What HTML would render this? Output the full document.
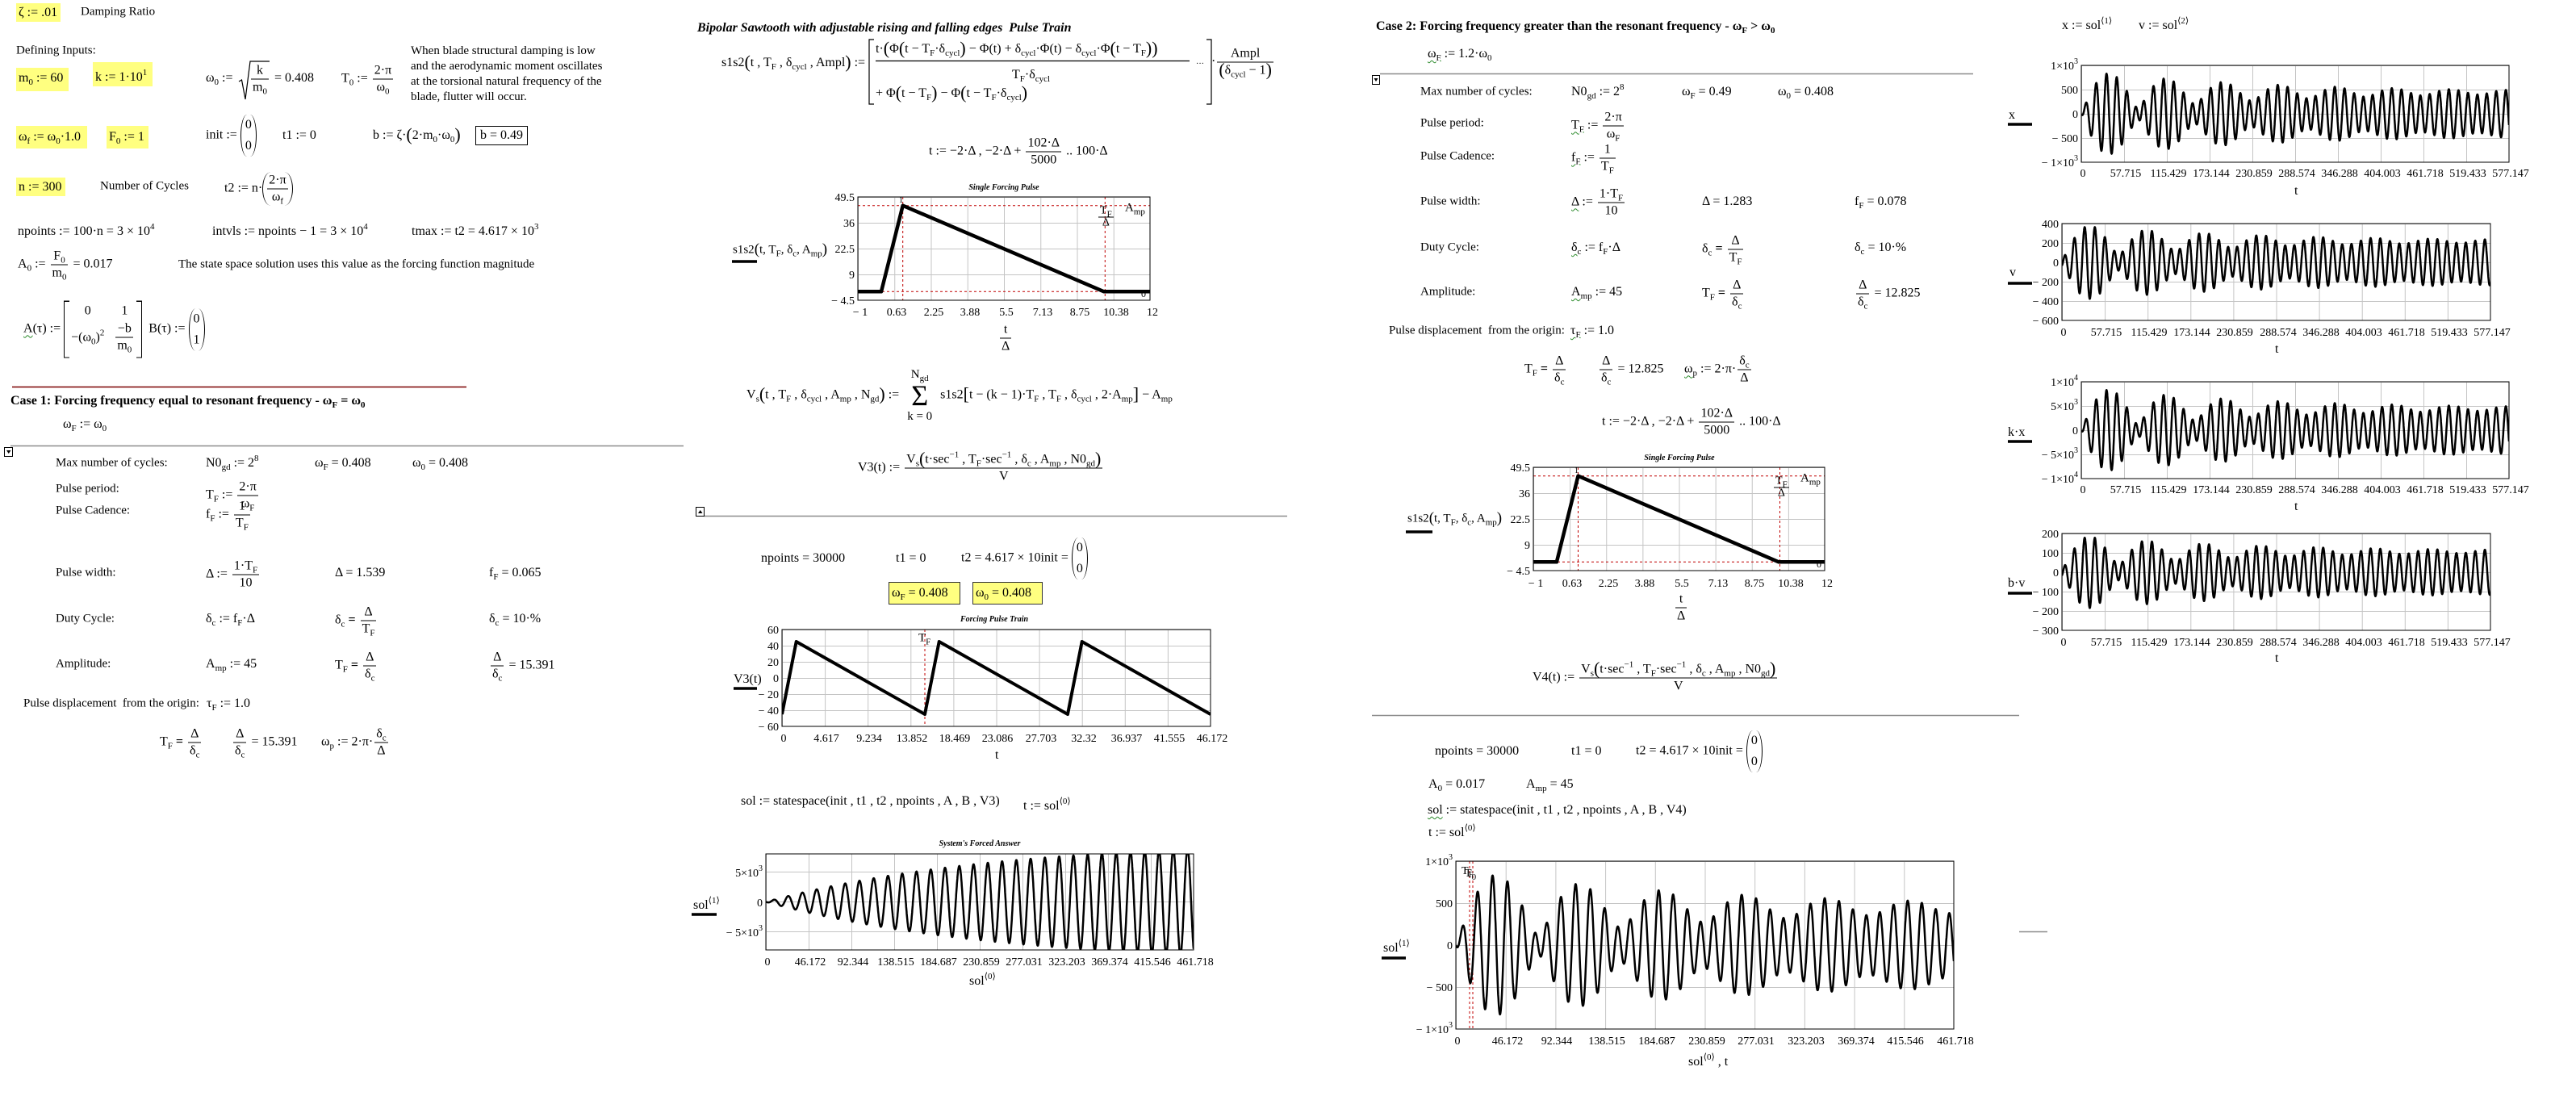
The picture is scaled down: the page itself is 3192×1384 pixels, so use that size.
<!DOCTYPE html>
<html><head><meta charset="utf-8">
<style>
*{margin:0;padding:0}
body{width:3192px;height:1384px;position:relative;overflow:hidden;background:#fff;font-family:"Liberation Serif","DejaVu Serif",serif;color:#000}
svg.main{position:absolute;left:0;top:0}
.a{position:absolute;white-space:nowrap;font-size:16px;line-height:1;transform:translateY(-50%)}
.tx{font-size:15px}
.bo{font-weight:bold}
sub{font-size:11px;vertical-align:-4px;line-height:0}
sup{font-size:11px;vertical-align:7px;line-height:0}
.f{display:inline-block;vertical-align:middle;text-align:center;margin:0 2px}
.f>span{display:block;line-height:20px;padding:0 2px}
.f>.n{border-bottom:1px solid #000}
.v{display:inline-block;vertical-align:middle;text-align:center;border-left:1.3px solid #000;border-right:1.3px solid #000;border-radius:8px/50%;padding:0 5px;line-height:26px}
.hl{position:absolute;background:#ffff80}
.w{text-decoration:underline wavy #2a8a2a;text-decoration-thickness:1px;text-underline-offset:3px}
.bp{font-size:22px;vertical-align:-2px;line-height:0}
.bq{font-size:19px;vertical-align:-1px;line-height:0}
.mx{display:inline-grid;grid-template-columns:auto auto;column-gap:12px;row-gap:4px;align-items:center;justify-items:center;vertical-align:middle;padding:5px 8px;border-left:1.5px solid #000;border-right:1.5px solid #000;background:linear-gradient(#000,#000) left top/6px 1.5px no-repeat,linear-gradient(#000,#000) right top/6px 1.5px no-repeat,linear-gradient(#000,#000) left bottom/6px 1.5px no-repeat,linear-gradient(#000,#000) right bottom/6px 1.5px no-repeat}
.sg{display:inline-flex;flex-direction:column;align-items:center;vertical-align:middle;font-size:15px;line-height:18px;margin:0 6px}
.sg .sgm{font-size:36px;line-height:34px}
.sm .f>span{line-height:14px}
.yl{font-size:15px}
</style></head><body>

<svg class="main" width="3192" height="1384" viewBox="0 0 3192 1384" xmlns="http://www.w3.org/2000/svg">
<defs>
<clipPath id="cA"><rect x="1063" y="244" width="362" height="128"/></clipPath>
<clipPath id="cB"><rect x="969" y="780" width="531" height="120"/></clipPath>
<clipPath id="cC"><rect x="949" y="1058" width="530" height="119"/></clipPath>
<clipPath id="cD"><rect x="1900" y="579" width="361" height="128"/></clipPath>
<clipPath id="cE"><rect x="1804" y="1067" width="617" height="208"/></clipPath>
<clipPath id="cF"><rect x="2579" y="81" width="530" height="120"/></clipPath>
<clipPath id="cG"><rect x="2555" y="277" width="531" height="120"/></clipPath>
<clipPath id="cH"><rect x="2579" y="473" width="530" height="120"/></clipPath>
<clipPath id="cI"><rect x="2555" y="661" width="531" height="120"/></clipPath>
<pattern id="pA" x="1063" y="244" width="45.25" height="32" patternUnits="userSpaceOnUse"><path d="M0 0V32M0 0H45.25" stroke="#c4c4c4" stroke-width="2" fill="none"/></pattern>
<pattern id="pD" x="1900" y="579" width="45.125" height="32" patternUnits="userSpaceOnUse"><path d="M0 0V32M0 0H45.125" stroke="#c4c4c4" stroke-width="2" fill="none"/></pattern>
<pattern id="pB" x="969" y="780" width="53.1" height="20" patternUnits="userSpaceOnUse"><path d="M0 0V20M0 0H53.1" stroke="#c4c4c4" stroke-width="2" fill="none"/></pattern>
<pattern id="pC" x="949" y="1058" width="53" height="119" patternUnits="userSpaceOnUse"><path d="M0 0V119" stroke="#c4c4c4" stroke-width="2" fill="none"/></pattern>
<pattern id="pE" x="1804" y="1067" width="61.7" height="52" patternUnits="userSpaceOnUse"><path d="M0 0V52M0 0H61.7" stroke="#c4c4c4" stroke-width="2" fill="none"/></pattern>
<pattern id="pF" x="2579" y="81" width="53" height="30" patternUnits="userSpaceOnUse"><path d="M0 0V30M0 0H53" stroke="#c4c4c4" stroke-width="2" fill="none"/></pattern>
<pattern id="pG" x="2555" y="277" width="53.1" height="24" patternUnits="userSpaceOnUse"><path d="M0 0V24M0 0H53.1" stroke="#c4c4c4" stroke-width="2" fill="none"/></pattern>
<pattern id="pH" x="2579" y="473" width="53" height="30" patternUnits="userSpaceOnUse"><path d="M0 0V30M0 0H53" stroke="#c4c4c4" stroke-width="2" fill="none"/></pattern>
<pattern id="pI" x="2555" y="661" width="53.1" height="24" patternUnits="userSpaceOnUse"><path d="M0 0V24M0 0H53.1" stroke="#c4c4c4" stroke-width="2" fill="none"/></pattern>
</defs>

<!-- separators -->
<path d="M15 479.5H578" stroke="#7a0000" stroke-width="1.5"/>
<g stroke="#8c8c8c" stroke-width="1.5">
<path d="M13 552.5H847"/>
<path d="M872 639.5H1595"/>
<path d="M1710 91.5H2445"/>
<path d="M1700 886.5H2502"/>
<path d="M2502 1154.5H2537"/>
</g>
<!-- icons -->
<g stroke="#000" stroke-width="1" fill="#fff">
<rect x="5.5" y="554.5" width="10" height="11"/>
<rect x="862.5" y="628.5" width="10" height="11"/>
<rect x="1700.5" y="93.5" width="9" height="11"/>
</g>
<path d="M8 558h5.5l-2.75 4z M865 636h5.5l-2.75-4z M1702.5 97h5l-2.5 4z" fill="#000"/>

<!-- radical and big brackets -->
<g fill="none" stroke="#000" stroke-width="1.2">
<path d="M296 101 L299.5 99 L304 123 L310 76 L334 76"/>
<path d="M1083 49H1077V129H1083"/>
<path d="M1495 49H1501V129H1495"/>
<path d="M1085 75.5H1474"/>
</g>

<!-- Chart A -->
<rect x="1063" y="244" width="362" height="128" fill="url(#pA)"/>
<path d="M1063 254.7H1425M1063 361.3H1425M1118.7 244V372M1369.3 244V372" stroke="#c00000" stroke-width="1" stroke-dasharray="3,3" fill="none"/>
<g clip-path="url(#cA)"><path d="M1063 361.3L1092 361.3L1118.7 254.7L1367.9 361.3L1425 361.3" stroke="#000" stroke-width="4.5" fill="none" stroke-linejoin="round"/></g>
<rect x="1063" y="244" width="362" height="128" fill="none" stroke="#000" stroke-width="1"/>

<!-- Chart D -->
<rect x="1900" y="579" width="361" height="128" fill="url(#pD)"/>
<path d="M1900 589.7H2261M1900 696.3H2261M1955.5 579V707M2205.5 579V707" stroke="#c00000" stroke-width="1" stroke-dasharray="3,3" fill="none"/>
<g clip-path="url(#cD)"><path d="M1900 696.3L1928.9 696.3L1955.5 589.7L2204 696.3L2261 696.3" stroke="#000" stroke-width="4.5" fill="none" stroke-linejoin="round"/></g>
<rect x="1900" y="579" width="361" height="128" fill="none" stroke="#000" stroke-width="1"/>

<!-- Chart B -->
<rect x="969" y="780" width="531" height="120" fill="url(#pB)"/>
<path d="M1146 780V900" stroke="#c00000" stroke-width="1" stroke-dasharray="3,3" fill="none"/>
<g clip-path="url(#cB)"><path d="M969 885L986.7 795L1146 885L1163.7 795L1323 885L1340.7 795L1500 885" stroke="#000" stroke-width="4" fill="none" stroke-linejoin="round"/></g>
<rect x="969" y="780" width="531" height="120" fill="none" stroke="#000" stroke-width="1"/>

<!-- Chart C -->
<rect x="949" y="1058" width="530" height="119" fill="url(#pC)"/>
<path d="M949 1080.5H1479M949 1117.5H1479M949 1154.5H1479" stroke="#c4c4c4" stroke-width="1"/>
<g clip-path="url(#cC)"><path id="tC" d="" stroke="#000" stroke-width="2.5" fill="none" stroke-linejoin="round"/></g>
<rect x="949" y="1058" width="530" height="119" fill="none" stroke="#000" stroke-width="1"/>

<!-- Chart E -->
<rect x="1804" y="1067" width="617" height="208" fill="url(#pE)"/>
<path d="M1821 1067V1275M1825 1067V1275" stroke="#c00000" stroke-width="1" stroke-dasharray="3,3" fill="none"/>
<g clip-path="url(#cE)"><path id="tE" d="" stroke="#000" stroke-width="2.5" fill="none" stroke-linejoin="round"/></g>
<rect x="1804" y="1067" width="617" height="208" fill="none" stroke="#000" stroke-width="1"/>

<!-- Chart F -->
<rect x="2579" y="81" width="530" height="120" fill="url(#pF)"/>
<g clip-path="url(#cF)"><path id="tF" d="" stroke="#000" stroke-width="2.5" fill="none" stroke-linejoin="round"/></g>
<rect x="2579" y="81" width="530" height="120" fill="none" stroke="#000" stroke-width="1"/>
<!-- Chart G -->
<rect x="2555" y="277" width="531" height="120" fill="url(#pG)"/>
<g clip-path="url(#cG)"><path id="tG" d="" stroke="#000" stroke-width="2.5" fill="none" stroke-linejoin="round"/></g>
<rect x="2555" y="277" width="531" height="120" fill="none" stroke="#000" stroke-width="1"/>
<!-- Chart H -->
<rect x="2579" y="473" width="530" height="120" fill="url(#pH)"/>
<g clip-path="url(#cH)"><path id="tH" d="" stroke="#000" stroke-width="2.5" fill="none" stroke-linejoin="round"/></g>
<rect x="2579" y="473" width="530" height="120" fill="none" stroke="#000" stroke-width="1"/>
<!-- Chart I -->
<rect x="2555" y="661" width="531" height="120" fill="url(#pI)"/>
<g clip-path="url(#cI)"><path id="tI" d="" stroke="#000" stroke-width="2.5" fill="none" stroke-linejoin="round"/></g>
<rect x="2555" y="661" width="531" height="120" fill="none" stroke="#000" stroke-width="1"/>

<!-- legend lines -->
<path d="M907 324H938M909 853H938M857 1133H888M1742 659H1775M1712 1187H1742M2488 154H2518M2488 351H2518M2488 547H2518M2488 735H2518" stroke="#000" stroke-width="3.5"/>

<!-- tick labels -->
<g font-family="Liberation Serif, serif" font-size="14" fill="#000">
<g text-anchor="end">
<text x="1059" y="249">49.5</text><text x="1059" y="281">36</text><text x="1059" y="313">22.5</text><text x="1059" y="345">9</text><text x="1059" y="377">− 4.5</text>
<text x="1896" y="584">49.5</text><text x="1896" y="616">36</text><text x="1896" y="648">22.5</text><text x="1896" y="680">9</text><text x="1896" y="712">− 4.5</text>
<text x="965" y="785">60</text><text x="965" y="805">40</text><text x="965" y="825">20</text><text x="965" y="845">0</text><text x="965" y="865">− 20</text><text x="965" y="885">− 40</text><text x="965" y="905">− 60</text>
<text x="945" y="1086">5×10<tspan dy="-7" font-size="10">3</tspan></text><text x="945" y="1123">0</text><text x="945" y="1160">− 5×10<tspan dy="-7" font-size="10">3</tspan></text>
<text x="1800" y="1072">1×10<tspan dy="-7" font-size="10">3</tspan></text><text x="1800" y="1124">500</text><text x="1800" y="1176">0</text><text x="1800" y="1228">− 500</text><text x="1800" y="1280">− 1×10<tspan dy="-7" font-size="10">3</tspan></text>
<text x="2575" y="86">1×10<tspan dy="-7" font-size="10">3</tspan></text><text x="2575" y="116">500</text><text x="2575" y="146">0</text><text x="2575" y="176">− 500</text><text x="2575" y="206">− 1×10<tspan dy="-7" font-size="10">3</tspan></text>
<text x="2551" y="282">400</text><text x="2551" y="306">200</text><text x="2551" y="330">0</text><text x="2551" y="354">− 200</text><text x="2551" y="378">− 400</text><text x="2551" y="402">− 600</text>
<text x="2575" y="478">1×10<tspan dy="-7" font-size="10">4</tspan></text><text x="2575" y="508">5×10<tspan dy="-7" font-size="10">3</tspan></text><text x="2575" y="538">0</text><text x="2575" y="568">− 5×10<tspan dy="-7" font-size="10">3</tspan></text><text x="2575" y="598">− 1×10<tspan dy="-7" font-size="10">4</tspan></text>
<text x="2551" y="666">200</text><text x="2551" y="690">100</text><text x="2551" y="714">0</text><text x="2551" y="738">− 100</text><text x="2551" y="762">− 200</text><text x="2551" y="786">− 300</text>
</g>
<g text-anchor="middle">
<text x="1066" y="391">− 1</text><text x="1111" y="391">0.63</text><text x="1157" y="391">2.25</text><text x="1202" y="391">3.88</text><text x="1247" y="391">5.5</text><text x="1292" y="391">7.13</text><text x="1338" y="391">8.75</text><text x="1383" y="391">10.38</text><text x="1428" y="391">12</text>
<text x="1903" y="727">− 1</text><text x="1948" y="727">0.63</text><text x="1993" y="727">2.25</text><text x="2038" y="727">3.88</text><text x="2084" y="727">5.5</text><text x="2129" y="727">7.13</text><text x="2174" y="727">8.75</text><text x="2219" y="727">10.38</text><text x="2264" y="727">12</text>
<text x="971" y="919">0</text><text x="1024" y="919">4.617</text><text x="1077" y="919">9.234</text><text x="1130" y="919">13.852</text><text x="1183" y="919">18.469</text><text x="1236" y="919">23.086</text><text x="1290" y="919">27.703</text><text x="1343" y="919">32.32</text><text x="1396" y="919">36.937</text><text x="1449" y="919">41.555</text><text x="1502" y="919">46.172</text>
<text x="951" y="1196">0</text><text x="1004" y="1196">46.172</text><text x="1057" y="1196">92.344</text><text x="1110" y="1196">138.515</text><text x="1163" y="1196">184.687</text><text x="1216" y="1196">230.859</text><text x="1269" y="1196">277.031</text><text x="1322" y="1196">323.203</text><text x="1375" y="1196">369.374</text><text x="1428" y="1196">415.546</text><text x="1481" y="1196">461.718</text>
<text x="1806" y="1294">0</text><text x="1868" y="1294">46.172</text><text x="1929" y="1294">92.344</text><text x="1991" y="1294">138.515</text><text x="2053" y="1294">184.687</text><text x="2115" y="1294">230.859</text><text x="2176" y="1294">277.031</text><text x="2238" y="1294">323.203</text><text x="2300" y="1294">369.374</text><text x="2361" y="1294">415.546</text><text x="2423" y="1294">461.718</text>
<text x="2581" y="219">0</text><text x="2634" y="219">57.715</text><text x="2687" y="219">115.429</text><text x="2740" y="219">173.144</text><text x="2793" y="219">230.859</text><text x="2846" y="219">288.574</text><text x="2899" y="219">346.288</text><text x="2952" y="219">404.003</text><text x="3005" y="219">461.718</text><text x="3058" y="219">519.433</text><text x="3111" y="219">577.147</text>
<text x="2557" y="416">0</text><text x="2610" y="416">57.715</text><text x="2663" y="416">115.429</text><text x="2716" y="416">173.144</text><text x="2769" y="416">230.859</text><text x="2823" y="416">288.574</text><text x="2876" y="416">346.288</text><text x="2929" y="416">404.003</text><text x="2982" y="416">461.718</text><text x="3035" y="416">519.433</text><text x="3088" y="416">577.147</text>
<text x="2581" y="611">0</text><text x="2634" y="611">57.715</text><text x="2687" y="611">115.429</text><text x="2740" y="611">173.144</text><text x="2793" y="611">230.859</text><text x="2846" y="611">288.574</text><text x="2899" y="611">346.288</text><text x="2952" y="611">404.003</text><text x="3005" y="611">461.718</text><text x="3058" y="611">519.433</text><text x="3111" y="611">577.147</text>
<text x="2557" y="800">0</text><text x="2610" y="800">57.715</text><text x="2663" y="800">115.429</text><text x="2716" y="800">173.144</text><text x="2769" y="800">230.859</text><text x="2823" y="800">288.574</text><text x="2876" y="800">346.288</text><text x="2929" y="800">404.003</text><text x="2982" y="800">461.718</text><text x="3035" y="800">519.433</text><text x="3088" y="800">577.147</text>
<g font-size="10" font-weight="bold" font-style="italic">
<text x="1244" y="235">Single Forcing Pulse</text>
<text x="1232" y="770">Forcing Pulse Train</text>
<text x="1214" y="1048">System's Forced Answer</text>
<text x="2081" y="570">Single Forcing Pulse</text>
</g>
</g>
</g>
</svg>

<!-- ===== LEFT COLUMN ===== -->
<div class="hl" style="left:20px;top:4px;width:55px;height:23px"></div>
<div class="a" style="left:23px;top:16px">ζ := .01</div>
<div class="a tx" style="left:100px;top:15px">Damping Ratio</div>
<div class="a tx" style="left:20px;top:63px">Defining Inputs:</div>
<div class="hl" style="left:20px;top:84px;width:65px;height:29px"></div>
<div class="a" style="left:23px;top:97px">m<sub>0</sub> := 60</div>
<div class="hl" style="left:115px;top:77px;width:74px;height:30px"></div>
<div class="a" style="left:118px;top:96px">k := 1·10<sup>1</sup></div>
<div class="a" style="left:255px;top:97px">ω<sub>0</sub> :=</div>
<div class="a" style="left:309px;top:98px"><span class="f"><span class="n">k</span><span>m<sub>0</sub></span></span></div>
<div class="a" style="left:340px;top:97px">= 0.408</div>
<div class="a" style="left:423px;top:98px">T<sub>0</sub> := <span class="f"><span class="n">2·π</span><span>ω<sub>0</sub></span></span></div>
<div class="a tx" style="left:509px;top:54px;transform:none;line-height:19px">When blade structural damping is low<br>and the aerodynamic moment oscillates<br>at the torsional natural frequency of the<br>blade, flutter will occur.</div>

<div class="hl" style="left:20px;top:156px;width:88px;height:28px"></div>
<div class="a" style="left:23px;top:170px">ω<sub>f</sub> := ω<sub>0</sub>·1.0</div>
<div class="hl" style="left:132px;top:156px;width:52px;height:28px"></div>
<div class="a" style="left:135px;top:170px">F<sub>0</sub> := 1</div>
<div class="a" style="left:255px;top:168px">init := <span class="v">0<br>0</span></div>
<div class="a" style="left:350px;top:168px">t1 := 0</div>
<div class="a" style="left:462px;top:168px">b := ζ·<span class="bp">(</span>2·m<sub>0</sub>·ω<sub>0</sub><span class="bp">)</span></div>
<div class="a" style="left:589px;top:168px;border:1px solid #000;padding:3px 5px">b = 0.49</div>

<div class="hl" style="left:20px;top:220px;width:61px;height:23px"></div>
<div class="a" style="left:23px;top:232px">n := 300</div>
<div class="a tx" style="left:124px;top:231px">Number of Cycles</div>
<div class="a" style="left:278px;top:234px">t2 := n·<span class="v" style="padding:0 3px;border-radius:10px/50%;line-height:normal"><span class="f"><span class="n">2·π</span><span>ω<sub>f</sub></span></span></span></div>

<div class="a" style="left:22px;top:287px">npoints := 100·n = 3 × 10<sup>4</sup></div>
<div class="a" style="left:263px;top:287px">intvls := npoints − 1 = 3 × 10<sup>4</sup></div>
<div class="a" style="left:510px;top:287px">tmax := t2 = 4.617 × 10<sup>3</sup></div>
<div class="a" style="left:22px;top:328px">A<sub>0</sub> := <span class="f"><span class="n">F<sub>0</sub></span><span>m<sub>0</sub></span></span> = 0.017</div>
<div class="a tx" style="left:221px;top:328px">The state space solution uses this value as the forcing function magnitude</div>

<div class="a" style="left:29px;top:408px"><span class="w">A</span>(τ) := <span class="mx"><span>0</span><span>1</span><span>−(ω<sub>0</sub>)<sup>2</sup></span><span class="f"><span class="n">−b</span><span>m<sub>0</sub></span></span></span>&nbsp; B(τ) := <span class="v">0<br>1</span></div>

<div class="a bo" style="left:13px;top:497px">Case 1: Forcing frequency equal to resonant frequency - ω<sub>F</sub> = ω<sub>0</sub></div>
<div class="a" style="left:78px;top:526px">ω<sub>F</sub> := ω<sub>0</sub></div>

<div class="a tx" style="left:69px;top:574px">Max number of cycles:</div>
<div class="a" style="left:255px;top:574px">N0<sub>gd</sub> := 2<sup>8</sup></div>
<div class="a" style="left:390px;top:574px">ω<sub>F</sub> = 0.408</div>
<div class="a" style="left:511px;top:574px">ω<sub>0</sub> = 0.408</div>
<div class="a tx" style="left:69px;top:606px">Pulse period:</div>
<div class="a" style="left:255px;top:614px">T<sub>F</sub> := <span class="f"><span class="n">2·π</span><span>ω<sub>F</sub></span></span></div>
<div class="a tx" style="left:69px;top:633px">Pulse Cadence:</div>
<div class="a" style="left:255px;top:638px">f<sub>F</sub> := <span class="f"><span class="n">1</span><span>T<sub>F</sub></span></span></div>
<div class="a tx" style="left:69px;top:710px">Pulse width:</div>
<div class="a" style="left:255px;top:712px">Δ := <span class="f"><span class="n">1·T<sub>F</sub></span><span>10</span></span></div>
<div class="a" style="left:415px;top:710px">Δ = 1.539</div>
<div class="a" style="left:606px;top:710px">f<sub>F</sub> = 0.065</div>
<div class="a tx" style="left:69px;top:767px">Duty Cycle:</div>
<div class="a" style="left:255px;top:767px">δ<sub>c</sub> := f<sub>F</sub>·Δ</div>
<div class="a" style="left:415px;top:769px">δ<sub>c</sub> <b>=</b> <span class="f"><span class="n">Δ</span><span>T<sub>F</sub></span></span></div>
<div class="a" style="left:606px;top:767px">δ<sub>c</sub> = 10·%</div>
<div class="a tx" style="left:69px;top:823px">Amplitude:</div>
<div class="a" style="left:255px;top:823px">A<sub>mp</sub> := 45</div>
<div class="a" style="left:415px;top:825px">T<sub>F</sub> <b>=</b> <span class="f"><span class="n">Δ</span><span>δ<sub>c</sub></span></span></div>
<div class="a" style="left:606px;top:825px"><span class="f"><span class="n">Δ</span><span>δ<sub>c</sub></span></span> = 15.391</div>
<div class="a tx" style="left:29px;top:872px">Pulse displacement&nbsp; from the origin:</div>
<div class="a" style="left:256px;top:872px">τ<sub>F</sub> := 1.0</div>
<div class="a" style="left:198px;top:920px">T<sub>F</sub> <b>=</b> <span class="f"><span class="n">Δ</span><span>δ<sub>c</sub></span></span></div>
<div class="a" style="left:287px;top:920px"><span class="f"><span class="n">Δ</span><span>δ<sub>c</sub></span></span> = 15.391</div>
<div class="a" style="left:398px;top:920px">ω<sub>p</sub> := 2·π·<span class="f"><span class="n">δ<sub>c</sub></span><span>Δ</span></span></div>

<!-- ===== MIDDLE COLUMN ===== -->
<div class="a bo" style="left:864px;top:35px;font-style:italic">Bipolar Sawtooth with adjustable rising and falling edges&nbsp; Pulse Train</div>
<div class="a" style="left:894px;top:78px">s1s2<span class="bp">(</span>t , T<sub>F</sub> , δ<sub>cycl</sub> , Ampl<span class="bp">)</span> :=</div>
<div class="a" style="left:1085px;top:61px">t·<span class="bp">(</span>Φ<span class="bp">(</span>t − T<sub>F</sub>·δ<sub>cycl</sub><span class="bp">)</span> − Φ(t) + δ<sub>cycl</sub>·Φ(t) − δ<sub>cycl</sub>·Φ<span class="bp">(</span>t − T<sub>F</sub><span class="bp">)</span><span class="bp">)</span></div>
<div class="a" style="left:1254px;top:93px">T<sub>F</sub>·δ<sub>cycl</sub></div>
<div class="a" style="left:1085px;top:116px">+ Φ<span class="bp">(</span>t − T<sub>F</sub><span class="bp">)</span> − Φ<span class="bp">(</span>t − T<sub>F</sub>·δ<sub>cycl</sub><span class="bp">)</span></div>
<div class="a" style="left:1482px;top:80px;font-size:10px">···</div>
<div class="a" style="left:1501px;top:77px">·<span class="f"><span class="n">Ampl</span><span><span class="bp">(</span>δ<sub>cycl</sub> − 1<span class="bp">)</span></span></span></div>

<div class="a" style="left:1151px;top:188px">t := −2·Δ , −2·Δ + <span class="f"><span class="n">102·Δ</span><span>5000</span></span> .. 100·Δ</div>

<div class="a yl" style="left:908px;top:310px">s1s2<span class="bq">(</span>t, T<sub>F</sub>, δ<sub>c</sub>, A<sub>mp</sub><span class="bq">)</span></div>
<div class="a" style="left:1237px;top:419px"><span class="f"><span class="n">t</span><span>Δ</span></span></div>
<div class="a" style="left:1114px;top:249px;font-size:10px">1</div>
<div class="a sm" style="left:1359px;top:269px;font-size:14px"><span class="f"><span class="n">T<sub>F</sub></span><span>Δ</span></span></div>
<div class="a" style="left:1394px;top:258px;font-size:15px">A<sub>mp</sub></div>
<div class="a" style="left:1414px;top:364px;font-size:12px">0</div>

<div class="a" style="left:925px;top:490px">V<sub>s</sub><span class="bp">(</span>t , T<sub>F</sub> , δ<sub>cycl</sub> , A<sub>mp</sub> , N<sub>gd</sub><span class="bp">)</span> := <span class="sg"><span>N<sub>gd</sub></span><span class="sgm">Σ</span><span>k = 0</span></span> s1s2<span class="bp">[</span>t − (k − 1)·T<sub>F</sub> , T<sub>F</sub> , δ<sub>cycl</sub> , 2·A<sub>mp</sub><span class="bp">]</span> − A<sub>mp</sub></div>

<div class="a" style="left:1063px;top:580px">V3(t) := <span class="f"><span class="n">V<sub>s</sub><span class="bp">(</span>t·sec<sup>−1</sup> , T<sub>F</sub>·sec<sup>−1</sup> , δ<sub>c</sub> , A<sub>mp</sub> , N0<sub>gd</sub><span class="bp">)</span></span><span>V</span></span></div>

<div class="a" style="left:943px;top:692px">npoints = 30000</div>
<div class="a" style="left:1110px;top:692px">t1 = 0</div>
<div class="a" style="left:1191px;top:692px">t2 = 4.617 × 10init = <span class="v">0<br>0</span></div>
<div class="hl" style="left:1101px;top:721px;width:89px;height:28px;border:1px solid #333;box-sizing:border-box"></div>
<div class="a" style="left:1105px;top:735px">ω<sub>F</sub> = 0.408</div>
<div class="hl" style="left:1205px;top:721px;width:87px;height:28px;border:1px solid #333;box-sizing:border-box"></div>
<div class="a" style="left:1209px;top:735px">ω<sub>0</sub> = 0.408</div>

<div class="a" style="left:909px;top:842px">V3(t)</div>
<div class="a" style="left:1233px;top:936px">t</div>
<div class="a" style="left:1138px;top:791px;font-size:15px">T<sub>F</sub></div>

<div class="a" style="left:918px;top:993px">sol := statespace(init , t1 , t2 , npoints , A , B , V3)</div>
<div class="a" style="left:1268px;top:999px">t := sol<sup>⟨0⟩</sup></div>

<div class="a" style="left:859px;top:1122px">sol<sup>⟨1⟩</sup></div>
<div class="a" style="left:1201px;top:1216px">sol<sup>⟨0⟩</sup></div>

<!-- ===== CASE 2 COLUMN ===== -->
<div class="a bo" style="left:1705px;top:33px">Case 2: Forcing frequency greater than the resonant frequency - ω<sub>F</sub> &gt; ω<sub>0</sub></div>
<div class="a" style="left:1769px;top:67px"><span class="w">ω<sub>F</sub></span> := 1.2·ω<sub>0</sub></div>

<div class="a tx" style="left:1760px;top:114px">Max number of cycles:</div>
<div class="a" style="left:1947px;top:114px">N0<sub>gd</sub> := 2<sup>8</sup></div>
<div class="a" style="left:2084px;top:114px">ω<sub>F</sub> = 0.49</div>
<div class="a" style="left:2203px;top:114px">ω<sub>0</sub> = 0.408</div>
<div class="a tx" style="left:1760px;top:153px">Pulse period:</div>
<div class="a" style="left:1947px;top:156px"><span class="w">T<sub>F</sub></span> := <span class="f"><span class="n">2·π</span><span>ω<sub>F</sub></span></span></div>
<div class="a tx" style="left:1760px;top:194px">Pulse Cadence:</div>
<div class="a" style="left:1947px;top:196px"><span class="w">f<sub>F</sub></span> := <span class="f"><span class="n">1</span><span>T<sub>F</sub></span></span></div>
<div class="a tx" style="left:1760px;top:250px">Pulse width:</div>
<div class="a" style="left:1947px;top:251px"><span class="w">Δ</span> := <span class="f"><span class="n">1·T<sub>F</sub></span><span>10</span></span></div>
<div class="a" style="left:2109px;top:250px">Δ = 1.283</div>
<div class="a" style="left:2298px;top:250px">f<sub>F</sub> = 0.078</div>
<div class="a tx" style="left:1760px;top:307px">Duty Cycle:</div>
<div class="a" style="left:1947px;top:307px"><span class="w">δ<sub>c</sub></span> := f<sub>F</sub>·Δ</div>
<div class="a" style="left:2109px;top:309px">δ<sub>c</sub> <b>=</b> <span class="f"><span class="n">Δ</span><span>T<sub>F</sub></span></span></div>
<div class="a" style="left:2298px;top:307px">δ<sub>c</sub> = 10·%</div>
<div class="a tx" style="left:1760px;top:362px">Amplitude:</div>
<div class="a" style="left:1947px;top:362px"><span class="w">A<sub>mp</sub></span> := 45</div>
<div class="a" style="left:2109px;top:364px">T<sub>F</sub> <b>=</b> <span class="f"><span class="n">Δ</span><span>δ<sub>c</sub></span></span></div>
<div class="a" style="left:2298px;top:364px"><span class="f"><span class="n">Δ</span><span>δ<sub>c</sub></span></span> = 12.825</div>
<div class="a tx" style="left:1721px;top:410px">Pulse displacement&nbsp; from the origin:</div>
<div class="a" style="left:1946px;top:410px"><span class="w">τ<sub>F</sub></span> := 1.0</div>
<div class="a" style="left:1889px;top:458px">T<sub>F</sub> <b>=</b> <span class="f"><span class="n">Δ</span><span>δ<sub>c</sub></span></span></div>
<div class="a" style="left:1980px;top:458px"><span class="f"><span class="n">Δ</span><span>δ<sub>c</sub></span></span> = 12.825</div>
<div class="a" style="left:2087px;top:458px"><span class="w">ω<sub>p</sub></span> := 2·π·<span class="f"><span class="n">δ<sub>c</sub></span><span>Δ</span></span></div>
<div class="a" style="left:1985px;top:523px">t := −2·Δ , −2·Δ + <span class="f"><span class="n">102·Δ</span><span>5000</span></span> .. 100·Δ</div>

<div class="a yl" style="left:1744px;top:643px">s1s2<span class="bq">(</span>t, T<sub>F</sub>, δ<sub>c</sub>, A<sub>mp</sub><span class="bq">)</span></div>
<div class="a" style="left:2074px;top:753px"><span class="f"><span class="n">t</span><span>Δ</span></span></div>
<div class="a" style="left:1951px;top:584px;font-size:10px">1</div>
<div class="a sm" style="left:2196px;top:604px;font-size:14px"><span class="f"><span class="n">T<sub>F</sub></span><span>Δ</span></span></div>
<div class="a" style="left:2231px;top:593px;font-size:15px">A<sub>mp</sub></div>
<div class="a" style="left:2251px;top:699px;font-size:12px">0</div>

<div class="a" style="left:1899px;top:840px">V4(t) := <span class="f"><span class="n">V<sub>s</sub><span class="bp">(</span>t·sec<sup>−1</sup> , T<sub>F</sub>·sec<sup>−1</sup> , δ<sub>c</sub> , A<sub>mp</sub> , N0<sub>gd</sub><span class="bp">)</span></span><span>V</span></span></div>

<div class="a" style="left:1778px;top:931px">npoints = 30000</div>
<div class="a" style="left:1947px;top:931px">t1 = 0</div>
<div class="a" style="left:2027px;top:931px">t2 = 4.617 × 10init = <span class="v">0<br>0</span></div>
<div class="a" style="left:1770px;top:972px">A<sub>0</sub> = 0.017</div>
<div class="a" style="left:1891px;top:972px">A<sub>mp</sub> = 45</div>
<div class="a" style="left:1769px;top:1004px"><span class="w">sol</span> := statespace(init , t1 , t2 , npoints , A , B , V4)</div>
<div class="a" style="left:1770px;top:1032px">t := sol<sup>⟨0⟩</sup></div>

<div class="a" style="left:1714px;top:1175px">sol<sup>⟨1⟩</sup></div>
<div class="a" style="left:2092px;top:1316px">sol<sup>⟨0⟩</sup> , t</div>
<div class="a" style="left:1811px;top:1080px;font-size:14px">T<sub>F</sub></div>
<div class="a" style="left:1815px;top:1083px;font-size:14px">T<sub>0</sub></div>

<!-- ===== FAR RIGHT ===== -->
<div class="a" style="left:2555px;top:32px">x := sol<sup>⟨1⟩</sup></div>
<div class="a" style="left:2650px;top:32px">v := sol<sup>⟨2⟩</sup></div>
<div class="a" style="left:2489px;top:143px">x</div>
<div class="a" style="left:2843px;top:237px">t</div>
<div class="a" style="left:2490px;top:338px">v</div>
<div class="a" style="left:2819px;top:433px">t</div>
<div class="a" style="left:2488px;top:536px">k·x</div>
<div class="a" style="left:2843px;top:628px">t</div>
<div class="a" style="left:2488px;top:723px">b·v</div>
<div class="a" style="left:2819px;top:816px">t</div>

<script>
(function(){
function P(id,X,Y,W,H,x0,x1,y0,y1,f,N){var d='';for(var i=0;i<=N;i++){var t=x0+(x1-x0)*i/N,v=f(t);var px=X+(t-x0)/(x1-x0)*W,py=Y+(y1-v)/(y1-y0)*H;d+=(i?'L':'M')+px.toFixed(1)+' '+py.toFixed(1);}var e=document.getElementById(id);if(e)e.setAttribute('d',d);}
var a=450,wF=0.49,w0=0.408,c=0.00408,ps=2.018;
function X(t){return a*Math.cos(wF*t+ps)-a*Math.exp(-c*t)*Math.cos(w0*t+ps);}
function V(t){return -a*wF*Math.sin(wF*t+ps)+a*Math.exp(-c*t)*(w0*Math.sin(w0*t+ps)+c*Math.cos(w0*t+ps));}
function S1(t){return 10500*(1-Math.exp(-0.00408*t))*Math.cos(0.408*t+2.77);}
P('tC',949,1058,530,119,0,461.718,-8040,8040,S1,3000);
P('tE',1804,1067,617,208,0,461.718,-1000,1000,X,3000);
P('tF',2579,81,530,120,0,577.147,-1000,1000,X,3000);
P('tG',2555,277,531,120,0,577.147,-600,400,V,3000);
P('tH',2579,473,530,120,0,577.147,-10000,10000,function(t){return 10*X(t);},3000);
P('tI',2555,661,531,120,0,577.147,-300,200,function(t){return 0.49*V(t);},3000);
})();
</script>
</body></html>
